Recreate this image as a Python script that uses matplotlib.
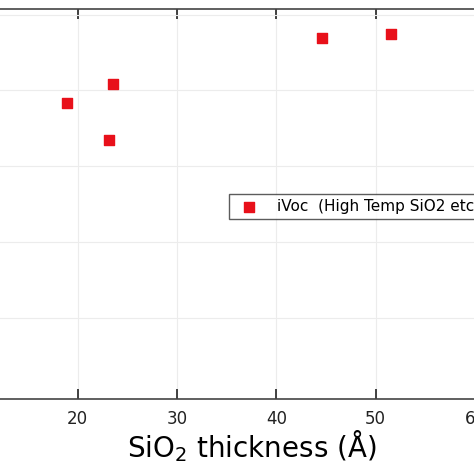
import matplotlib
matplotlib.use("Agg")
import matplotlib.pyplot as plt

thickness = [18.9, 23.6, 23.2, 44.6, 51.5]
ivoc = [728.4, 730.9, 723.5, 736.9, 737.4]
xticks = [20, 30, 40, 50, 60]
yticks = [700, 710, 720, 730, 740]

fig = plt.figure(figsize=(4.74, 4.74), dpi=100)
W = 474
ax = fig.add_axes([-21.7/W, 75/W, 546.3/W, 389.7/W])
ax.scatter(thickness, ivoc, marker='s', s=50, color='#e8101a', label='iVoc  (High Temp SiO2 etched back)', zorder=3)
ax.set_xlim(10, 65)
ax.set_ylim(689.3, 740.7)
ax.set_xticks(xticks)
ax.set_yticks(yticks)
ax.grid(True, color='#ececec', lw=0.8)
ax.tick_params(axis='x', direction='in', top=True, length=7, width=1.2, labelsize=12, pad=8, colors='#222222')
ax.tick_params(axis='y', direction='in', right=True, length=7, labelleft=False)
for s in ax.spines.values():
    s.set_color('#444444'); s.set_linewidth(1.2)
ax.set_xlabel('SiO$_2$ thickness (Å)', fontsize=20, labelpad=0)
leg = fig.legend(loc='upper left', bbox_to_anchor=(221/W, 1-186/W), fontsize=11, frameon=True,
                 fancybox=False, edgecolor='#333333', handletextpad=0.8, borderpad=0.35, markerscale=1.0)
leg.get_frame().set_linewidth(1.0)
fig.savefig('out.png', dpi=100)
